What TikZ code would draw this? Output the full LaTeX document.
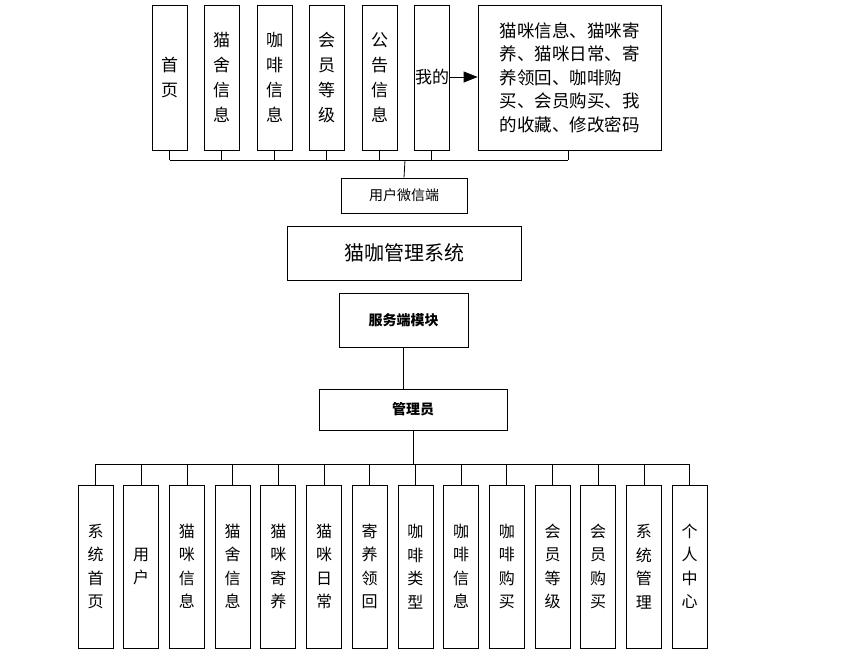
\documentclass[tikz,border=0pt]{standalone}
\usepackage{fontspec}
\newfontfamily\cjk{Noto Sans CJK SC}
\usetikzlibrary{arrows.meta}
\begin{document}
\begin{tikzpicture}[x=1pt,y=-1pt,
  box/.style={draw,thick,inner sep=0pt,font=\cjk},
  topv/.style={box,minimum width=35pt,minimum height=145pt,align=center,font=\cjk\fontsize{17}{25}\selectfont},
  botv/.style={box,minimum width=35pt,minimum height=163pt,align=center,font=\cjk\fontsize{16}{23.5}\selectfont},
  ln/.style={draw,line width=0.8pt}]
\useasboundingbox (0,0) rectangle (862,667);
\foreach \n/\x/\t in {t1/169.5/{首\\页},t2/221.5/{猫\\舍\\信\\息},t3/274.5/{咖\\啡\\信\\息},t4/326.5/{会\\员\\等\\级},t5/379.5/{公\\告\\信\\息},t6/431.5/{}}
  \node[topv] (\n) at (\x,77.5) {\t};
\node[font=\cjk\fontsize{17}{20}\selectfont,inner sep=0pt] (wd) at (432,77) {我的};
\node[box,minimum width=183pt,minimum height=145pt,align=left,font=\cjk\fontsize{17.5}{23.5}\selectfont] (txt) at (569.5,77.5) {猫咪信息、猫咪寄\\养、猫咪日常、寄\\养领回、咖啡购\\买、会员购买、我\\的收藏、修改密码};
\draw[-{Triangle[length=14pt,width=11pt]},thick] (wd.east) -- (txt.west |- wd.east);
\node[box,minimum width=126pt,minimum height=35pt,font=\cjk\fontsize{14}{16}\selectfont] (wx) at (404,195.5) {用户微信端};
\node[box,minimum width=234pt,minimum height=54pt,font=\cjk\fontsize{20}{22}\selectfont] (sys) at (404,253) {猫咖管理系统};
\node[box,minimum width=129pt,minimum height=54pt,font=\cjk\bfseries\fontsize{14}{16}\selectfont] (srv) at (403.5,320) {服务端模块};
\node[box,minimum width=188pt,minimum height=41pt,font=\cjk\bfseries\fontsize{14}{16}\selectfont] (adm) at (413,409.5) {管理员};
\coordinate (bt) at (405,160);
\foreach \n in {t1,t2,t3,t4,t5,t6} \draw[ln] (\n.south) -- (\n.south |- bt);
\draw[ln] (568,150) -- (568,160);
\draw[ln] (t1.south |- bt) -- (568,160);
\draw[ln] (bt) -- (wx.north);
\draw[ln] (srv.south) -- (srv.south |- adm.north);
\coordinate (bb) at (413,464);
\draw[ln] (adm.south) -- (bb);
\foreach \i/\t in {0/{系\\统\\首\\页},1/{用\\户},2/{猫\\咪\\信\\息},3/{猫\\舍\\信\\息},4/{猫\\咪\\寄\\养},5/{猫\\咪\\日\\常},6/{寄\\养\\领\\回},7/{咖\\啡\\类\\型},8/{咖\\啡\\信\\息},9/{咖\\啡\\购\\买},10/{会\\员\\等\\级},11/{会\\员\\购\\买},12/{系\\统\\管\\理},13/{个\\人\\中\\心}}{
  \node[botv] (b\i) at (95.5+45.7*\i,566.5) {\t};
  \draw[ln] (b\i.north) -- (b\i.north |- bb);
}
\draw[ln] (b0.north |- bb) -- (b13.north |- bb);
\end{tikzpicture}
\end{document}
